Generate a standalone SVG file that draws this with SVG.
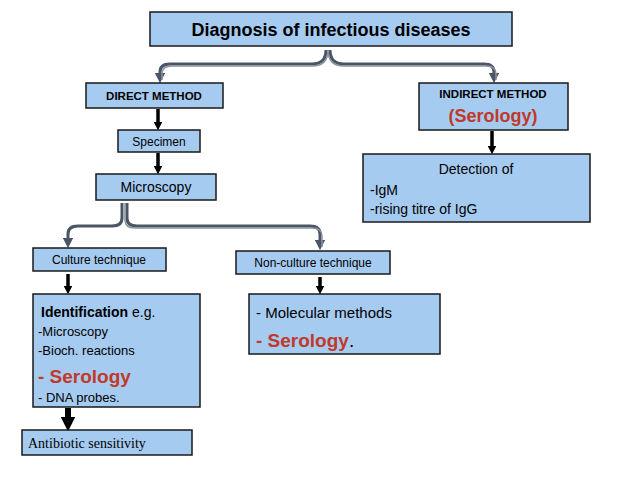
<svg xmlns="http://www.w3.org/2000/svg" width="638" height="479" viewBox="0 0 638 479">
<defs>
<marker id="ga" viewBox="0 0 10 10" refX="5" refY="5" markerWidth="3.5" markerHeight="3.5" orient="auto"><path d="M0,0 L10,5 L0,10 z" fill="#4a5566"/></marker>
<marker id="ba" viewBox="0 0 10 10" refX="5" refY="5" markerWidth="2.5" markerHeight="2.5" orient="auto"><path d="M0,0 L10,5 L0,10 z" fill="#000"/></marker>
<style>
.b{fill:#a6cbf0;stroke:#1a1a1a;stroke-width:1.5}
.t{font-family:"Liberation Sans",Arial,sans-serif;fill:#000}
.r{fill:#c0392b;font-weight:bold}
.g{fill:none;stroke:#4a5566;stroke-width:3}
.gl{fill:none;stroke:#8a939e;stroke-width:1.5}
.k{stroke:#000;stroke-width:3.5}
</style>
</defs>
<rect width="638" height="479" fill="#fff"/>
<g id="connectors">
<path class="g" d="M326,50 Q326,64 312,64 L170,64 Q160,64 160,72 L160,78" marker-end="url(#ga)"/>
<path class="g" d="M330,50 Q330,64 344,64 L484,64 Q494,64 494,72 L494,78" marker-end="url(#ga)"/>
<path class="gl" d="M328,50 Q328,66 344,66 L486,66 Q496,66 496,74 L496,80"/>
<path class="gl" d="M328,50 Q328,66 312,66 L172,66 Q162,66 162,74 L162,80"/>
<path class="g" d="M122,203 L122,218 Q122,226 112,226 L78,226 Q68,226 68,234 L68,243" marker-end="url(#ga)"/>
<path class="g" d="M127,203 L127,218 Q127,226 137,226 L310,226 Q320,226 320,234 L320,245" marker-end="url(#ga)"/>
<path class="gl" d="M125,203 L125,220 Q125,228 135,228 L312,228 Q322,228 322,236 L322,247"/>
<line class="k" x1="158" y1="109" x2="158" y2="126" marker-end="url(#ba)"/>
<line class="k" x1="158" y1="153" x2="158" y2="170" marker-end="url(#ba)"/>
<line class="k" x1="492" y1="131" x2="492" y2="150" marker-end="url(#ba)"/>
<line class="k" x1="68" y1="274" x2="68" y2="290" marker-end="url(#ba)"/>
<line class="k" x1="320" y1="277" x2="320" y2="290" marker-end="url(#ba)"/>
<line stroke="#000" stroke-width="6" x1="68" y1="408" x2="68" y2="424" marker-end="url(#ba)"/>
</g>
<g id="title"><rect class="b" x="150" y="12" width="362" height="34"/><text class="t" x="331" y="36" font-size="18" font-weight="bold" text-anchor="middle">Diagnosis of infectious diseases</text></g>
<g id="direct"><rect class="b" x="86" y="83" width="137" height="25"/><text class="t" x="154" y="100" font-size="11.5" font-weight="bold" text-anchor="middle">DIRECT METHOD</text></g>
<g id="indirect"><rect class="b" x="419" y="83" width="149" height="47"/><text class="t" x="493" y="98" font-size="11.5" font-weight="bold" text-anchor="middle">INDIRECT METHOD</text><text class="t r" x="493" y="122" font-size="18" text-anchor="middle">(Serology)</text></g>
<g id="specimen"><rect class="b" x="118" y="130" width="82" height="22"/><text class="t" x="159" y="146" font-size="12" text-anchor="middle">Specimen</text></g>
<g id="microscopy"><rect class="b" x="96" y="174" width="120" height="26"/><text class="t" x="156" y="192" font-size="14" text-anchor="middle">Microscopy</text></g>
<g id="detection"><rect class="b" x="363" y="154" width="227" height="68"/><text class="t" x="476" y="174" font-size="14" text-anchor="middle">Detection of</text><text class="t" x="370" y="195" font-size="14">-IgM</text><text class="t" x="370" y="214" font-size="14">-rising titre of IgG</text></g>
<g id="culture"><rect class="b" x="33" y="248" width="133" height="23"/><text class="t" x="99" y="264" font-size="12" text-anchor="middle">Culture technique</text></g>
<g id="nonculture"><rect class="b" x="236" y="251" width="154" height="23"/><text class="t" x="313" y="267" font-size="12" text-anchor="middle">Non-culture technique</text></g>
<g id="identification"><rect class="b" x="33" y="294" width="167" height="113"/><text class="t" x="41" y="317" font-size="14"><tspan font-weight="bold">Identification</tspan> e.g.</text><text class="t" x="38" y="336" font-size="13">-Microscopy</text><text class="t" x="38" y="355" font-size="13">-Bioch. reactions</text><text class="t r" x="38" y="383" font-size="19">- Serology</text><text class="t" x="38" y="402" font-size="13">- DNA probes.</text></g>
<g id="molecular"><rect class="b" x="249" y="294" width="191" height="60"/><text class="t" x="256" y="318" font-size="15">- Molecular methods</text><text class="t" x="256" y="347" font-size="19"><tspan class="r">- Serology</tspan>.</text></g>
<g id="antibiotic"><rect class="b" x="22" y="430" width="170" height="25"/><text x="28" y="448" font-size="14" font-family="Liberation Serif,serif">Antibiotic sensitivity</text></g>
</svg>
